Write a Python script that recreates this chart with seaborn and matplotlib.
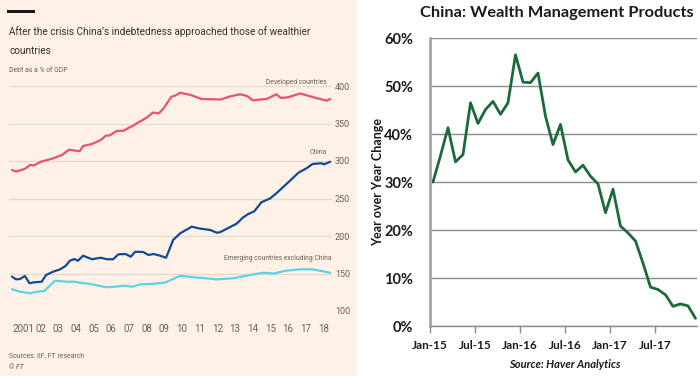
import matplotlib
matplotlib.use("Agg")
import matplotlib.pyplot as plt
from matplotlib import font_manager
from matplotlib.patches import Rectangle
import seaborn as sns
import pandas as pd

# ---------------- data: left panel (debt as % of GDP) ----------------
dev_years = [2000.37, 2000.6, 2001.1, 2001.4, 2001.6, 2002.0, 2002.7, 2003.2, 2003.6, 2004.2,
             2004.4, 2004.9, 2005.4, 2005.7, 2005.9, 2006.3, 2006.7, 2007.0, 2007.2, 2007.6,
             2008.0, 2008.35, 2008.7, 2008.95, 2009.4, 2009.6, 2009.9, 2010.5, 2011.1, 2012.2,
             2012.7, 2013.3, 2013.7, 2014.0, 2014.8, 2015.35, 2015.6, 2016.0, 2016.7, 2017.0,
             2017.6, 2018.2, 2018.4]
dev_vals = [288, 286, 289.5, 295, 294, 299, 303.5, 308, 315, 313,
            320, 322.7, 328, 334, 334, 340, 340.4, 344.5, 346.7, 352.4,
            357.8, 364.5, 363.6, 370, 385.7, 387, 391, 388, 382.7, 382,
            386, 389, 386.5, 381, 382.7, 389, 384, 385, 390, 388,
            384, 380.5, 382.7]

chn_years = [2000.37, 2000.6, 2000.83, 2001.1, 2001.36, 2001.6, 2002.05, 2002.3, 2002.7, 2003.1,
             2003.4, 2003.65, 2003.9, 2004.1, 2004.4, 2004.9, 2005.4, 2005.75, 2006.1, 2006.4,
             2006.8, 2007.1, 2007.35, 2007.8, 2008.1, 2008.4, 2008.75, 2009.1, 2009.5, 2009.9,
             2010.55, 2011.0, 2011.6, 2011.97, 2012.15, 2012.7, 2013.1, 2013.45, 2013.75, 2014.1,
             2014.5, 2015.0, 2015.35, 2015.9, 2016.6, 2017.05, 2017.4, 2017.9, 2018.05, 2018.4]
chn_vals = [145.8, 142.2, 142.7, 146.7, 137, 138.2, 139, 148, 152.4, 155.6,
            160, 167, 169.3, 167, 173.7, 169, 171, 169, 169, 175.6,
            176, 172.4, 179, 178.7, 174.7, 176, 173.8, 171, 194.7, 203.6,
            212.4, 210, 208, 204.4, 205, 211.6, 216.5, 224.5, 229.3, 233,
            245, 250.2, 257, 268.9, 284.4, 290.2, 296, 297, 295.6, 299]

emg_years = [2000.37, 2000.83, 2001.4, 2001.8, 2002.2, 2002.8, 2003.5, 2003.9, 2004.2, 2004.8,
             2005.75, 2006.2, 2006.7, 2007.2, 2007.65, 2008.2, 2009.05, 2009.9, 2010.65, 2011.97,
             2012.9, 2013.85, 2014.6, 2015.2, 2015.9, 2016.7, 2017.4, 2018.4]
emg_vals = [128.9, 125.8, 123.6, 125.8, 126.7, 140.4, 139, 139, 137.8, 136,
            131.6, 132.4, 133.8, 132.4, 135.6, 136, 137.8, 147, 145, 142.2,
            143.6, 148, 151, 150, 153.8, 155.6, 155.6, 151]

left_xticks = list(range(2001, 2019))
left_xlabels = ["2001"] + ["%02d" % (y % 100) for y in range(2002, 2019)]
left_yticks = [100, 150, 200, 250, 300, 350, 400]

# ---------------- data: right panel (WMP growth) ----------------
wmp_months = ["Jan-15", "Feb-15", "Mar-15", "Apr-15", "May-15", "Jun-15", "Jul-15", "Aug-15",
              "Sep-15", "Oct-15", "Nov-15", "Dec-15", "Jan-16", "Feb-16", "Mar-16", "Apr-16",
              "May-16", "Jun-16", "Jul-16", "Aug-16", "Sep-16", "Oct-16", "Nov-16", "Dec-16",
              "Jan-17", "Feb-17", "Mar-17", "Apr-17", "May-17", "Jun-17", "Jul-17", "Aug-17",
              "Sep-17", "Oct-17", "Nov-17", "Dec-17"]
wmp_yoy = [30.0, 35.5, 41.3, 34.2, 35.7, 46.5, 42.2, 45.1, 46.8, 44.1, 46.5, 56.5,
           50.8, 50.7, 52.7, 43.7, 37.8, 42.0, 34.6, 32.1, 33.5, 31.2, 29.6, 23.6,
           28.5, 20.8, 19.4, 17.7, 13.1, 8.1, 7.6, 6.5, 4.1, 4.6, 4.2, 1.6]
right_xlabels = ["Jan-15", "Jul-15", "Jan-16", "Jul-16", "Jan-17", "Jul-17"]
right_yticks = [0, 10, 20, 30, 40, 50, 60]

# ---------------- fonts ----------------
avail = {f.name for f in font_manager.fontManager.ttflist}
narrow = "Liberation Sans Narrow" if "Liberation Sans Narrow" in avail else (
    "Roboto" if "Roboto" in avail else "DejaVu Sans")
bold_font = "Lato" if "Lato" in avail else "DejaVu Sans"

sns.set_theme(style="white")
plt.rcParams["font.family"] = ["DejaVu Sans"]

W, H = 700, 376
fig = plt.figure(figsize=(W / 100, H / 100), dpi=100)
fig.patch.set_facecolor("white")
renderer = fig.canvas.get_renderer()


def fx(px):
    return px / W


def fy(py):
    return 1 - py / H


def fit(txt, target_px):
    """Scale a text's font size so its rendered width equals target_px."""
    w = txt.get_window_extent(renderer=renderer).width
    if w > 0:
        txt.set_fontsize(txt.get_fontsize() * target_px / w)
    return txt.get_fontsize()


# beige panel background
fig.patches.append(Rectangle((0, 0), fx(357), 1, transform=fig.transFigure,
                             facecolor="#FFF1E5", edgecolor="none", zorder=-5))
# black bar
fig.patches.append(Rectangle((fx(7), fy(13)), fx(28), 3 / H, transform=fig.transFigure,
                             facecolor="#1a1817", edgecolor="none", zorder=-4))

# ---------------- left axes ----------------
axL = fig.add_axes([fx(9), fy(311), fx(332) - fx(9), (311 - 86) / H])
axL.set_facecolor("none")
df_left = pd.concat([
    pd.DataFrame({"year": dev_years, "debt": dev_vals, "series": "Developed countries"}),
    pd.DataFrame({"year": chn_years, "debt": chn_vals, "series": "China"}),
    pd.DataFrame({"year": emg_years, "debt": emg_vals, "series": "Emerging countries excluding China"}),
])
pal = {"Developed countries": "#E8507F", "China": "#0D4A99",
       "Emerging countries excluding China": "#5CD3E2"}
sns.lineplot(data=df_left, x="year", y="debt", hue="series", palette=pal,
             linewidth=1.6, legend=False, ax=axL, estimator=None, sort=False)
axL.set_xlim(2000.2, 2018.5)
axL.set_ylim(100, 400)
for v in left_yticks:
    axL.axhline(v, color="#E3D8CC", lw=0.9, zorder=0)
for s in axL.spines.values():
    s.set_visible(False)
axL.set_yticks(left_yticks)
axL.yaxis.tick_right()
axL.tick_params(axis="y", length=0, pad=2, labelsize=6.5, labelcolor="#66605C")
for lab in axL.get_yticklabels():
    lab.set_fontfamily(narrow)
axL.set_xticks(left_xticks)
axL.set_xticklabels(left_xlabels, fontfamily=narrow)
axL.tick_params(axis="x", length=5, width=0.8, color="#BDB3A8", pad=4,
                labelsize=7, labelcolor="#66605C")
axL.set_xlabel("")
axL.set_ylabel("")
axL.grid(False)

lab_kw = dict(fontsize=7, color="#66605C", fontfamily=narrow, ha="right", va="center", clip_on=False)
t_dev = axL.text(2018.22, 404, "Developed countries", **lab_kw)
t_chn = axL.text(2018.22, 312, "China", **lab_kw)
t_emg = axL.text(2018.45, 169.5, "Emerging countries excluding China", **lab_kw)
fs_lab = fit(t_emg, 107)
t_dev.set_fontsize(fs_lab)
t_chn.set_fontsize(fs_lab)

t1 = fig.text(fx(9), fy(32), "After the crisis China\u2019s indebtedness approached those of wealthier",
              fontsize=10, color="#33302E", fontfamily=narrow, va="center")
fs_title = fit(t1, 299)
fig.text(fx(9), fy(51), "countries", fontsize=fs_title, color="#33302E", fontfamily=narrow, va="center")
t_sub = fig.text(fx(9), fy(70), "Debt as a % of GDP", fontsize=6.5, color="#66605C",
                 fontfamily=narrow, va="center")
fs_small = fit(t_sub, 59)
fig.text(fx(9), fy(356), "Sources: IIF, FT research", fontsize=fs_small, color="#66605C",
         fontfamily=narrow, va="center")
fig.text(fx(9), fy(367), "\u00a9 FT", fontsize=fs_small, color="#66605C", fontfamily=narrow,
         style="italic", va="center")

# ---------------- right axes ----------------
axR = fig.add_axes([fx(430), fy(326), fx(697) - fx(430), (326 - 38) / H])
df_right = pd.DataFrame({"pos": [i + 0.4 for i in range(len(wmp_months))],
                         "month": wmp_months, "yoy": wmp_yoy})
sns.lineplot(data=df_right, x="pos", y="yoy", color="#1B6A3A", linewidth=2.0, ax=axR,
             estimator=None)
axR.set_xlim(0, 35.6)
axR.set_ylim(0, 60)
axR.set_yticks(right_yticks)
axR.set_yticklabels(["%d%%" % v for v in right_yticks], fontfamily=bold_font,
                    fontweight="bold", fontsize=10.5, color="#1a1a1a")
axR.set_xticks(list(range(0, 36, 6)))
axR.set_xticklabels(right_xlabels, fontfamily=bold_font, fontweight="bold", fontsize=8.5,
                    color="#1a1a1a")
axR.yaxis.grid(True, color="#8C8C8C", lw=1.0)
axR.xaxis.grid(False)
axR.set_axisbelow(True)
for k in ["top", "right"]:
    axR.spines[k].set_visible(False)
axR.spines["left"].set_color("#A6A6A6")
axR.spines["left"].set_linewidth(2.0)
axR.spines["bottom"].set_color("#8C8C8C")
axR.spines["bottom"].set_linewidth(1.0)
axR.tick_params(axis="y", length=0, pad=12)
axR.tick_params(axis="x", length=5, width=1, color="#8C8C8C", direction="out", pad=5, bottom=True)
axR.set_xlabel("")
axR.set_ylabel("")

t_rt = fig.text(fx(557), fy(13), "China: Wealth Management Products", ha="center", va="center",
                fontsize=12, fontweight="bold", fontfamily=bold_font, color="#1a1a1a")
fit(t_rt, 272)
t_yl = fig.text(fx(378), fy(182), "Year over Year Change", rotation=90, ha="center", va="center",
                fontsize=9, fontweight="bold", fontfamily=bold_font, color="#1a1a1a")
fig.text(fx(565), fy(365), "Source: Haver Analytics", ha="center", va="center",
         fontsize=8, fontweight="bold", style="italic", fontfamily=bold_font, color="#1a1a1a")

fig.savefig("out.png", dpi=100, facecolor="white")
